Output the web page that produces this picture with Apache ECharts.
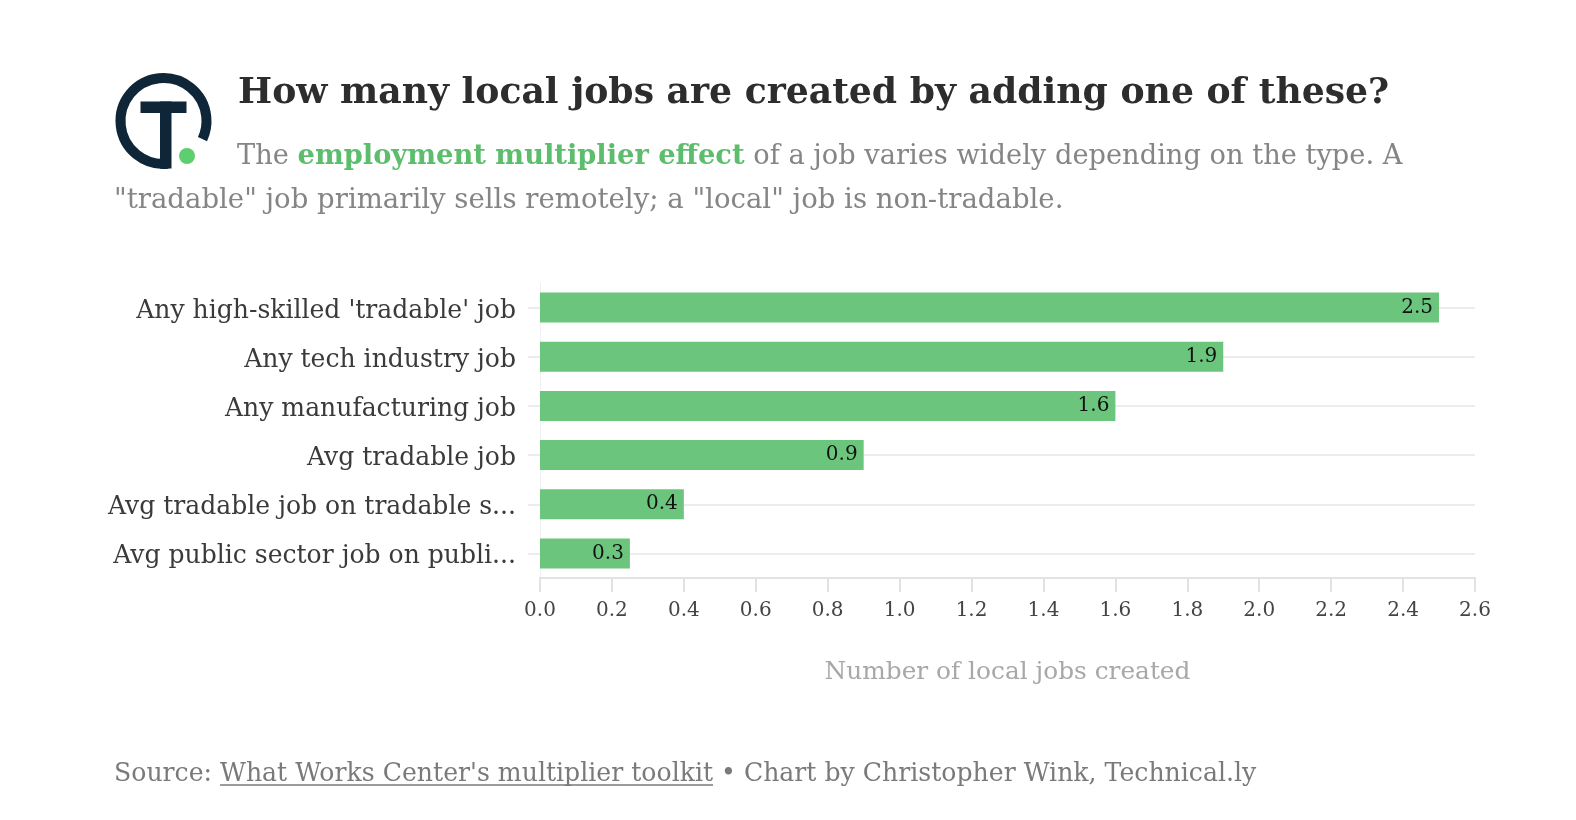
<!DOCTYPE html>
<html>
<head>
<meta charset="utf-8">
<script src="https://cdn.jsdelivr.net/npm/echarts@6/dist/echarts.min.js"></script>
<style>
html, body { margin: 0; background: #fff; }
#chart { width: 1576px; height: 820px; }
</style>
</head>
<body>
<div id="chart"></div>
<script>
// 数据
var categories = [
	"Any high-skilled 'tradable' job",
	'Any tech industry job',
	'Any manufacturing job',
	'Avg tradable job',
	'Avg tradable job on tradable s...',
	'Avg public sector job on publi...'
];
var values = [2.5, 1.9, 1.6, 0.9, 0.4, 0.25];
var axisMin = 0, axisMax = 2.6, axisStep = 0.2;

var titleText = 'How many local jobs are created by adding one of these?';
var subA = 'The ', subB = 'employment multiplier effect', subC = ' of a job varies widely depending on the type. A';
var sub2 = '"tradable" job primarily sells remotely; a "local" job is non-tradable.';
var srcA = 'Source: ', srcB = "What Works Center's multiplier toolkit", srcC = ' \u2022 Chart by Christopher Wink, Technical.ly';
var axisName = 'Number of local jobs created';

// 字体: 没有 Lora, 按宽度缩放
var FONT = '"DejaVu Serif", "Liberation Serif", serif';
var ctx = document.createElement('canvas').getContext('2d');
function textWidth(str, size, weight) {
	ctx.font = (weight || 'normal') + ' ' + size + 'px ' + FONT;
	return ctx.measureText(str).width;
}
function fitSize(parts, target) {
	var w = 0;
	parts.forEach(function(p) { w += textWidth(p[0], 100, p[1]); });
	return 100 * target / w;
}

var titleSize = fitSize([[titleText, 'bold']], 1152);
var subSize = fitSize([[subA], [subB, 'bold'], [subC]], 1166);
var sub2Size = fitSize([[sub2]], 950);
var labelSize = fitSize([[categories[0]]], 380);
var srcSize = fitSize([[srcA], [srcB], [srcC]], 1143);
var nameSize = fitSize([[axisName]], 366);

var navy = '#0f2538', green = '#6cc57c', subGrey = '#858585';

var srcX = 114;
var linkX1 = srcX + textWidth(srcA, srcSize);
var linkX2 = linkX1 + textWidth(srcB, srcSize);

var chart = echarts.init(document.getElementById('chart'));
chart.setOption({
	animation: false,
	backgroundColor: '#fff',
	textStyle: { fontFamily: FONT },
	grid: { left: 540, right: 101, top: 283, bottom: 242, containLabel: false },
	xAxis: {
		type: 'value',
		min: axisMin,
		max: axisMax,
		interval: axisStep,
		axisLine: { show: true, lineStyle: { color: '#e2e2e2', width: 2 } },
		axisTick: { show: true, length: 14, lineStyle: { color: '#e2e2e2', width: 2 } },
		axisLabel: {
			margin: 23, fontSize: 20, color: '#444', fontFamily: FONT,
			formatter: function(v) { return v.toFixed(1); }
		},
		splitLine: { show: false },
		name: axisName,
		nameLocation: 'middle',
		nameGap: 82,
		nameTextStyle: { fontSize: nameSize, color: '#a8a8a8', fontFamily: FONT }
	},
	yAxis: {
		type: 'category',
		inverse: true,
		data: categories,
		axisLine: { show: true, lineStyle: { color: '#f0f0f0', width: 1 } },
		axisTick: { show: true, alignWithLabel: true, length: 12, lineStyle: { color: '#ececec', width: 2 } },
		axisLabel: {
			margin: 24,
			formatter: function(v) { return '{a|' + v + '}'; },
			rich: { a: { fontSize: labelSize, color: '#3a3a3a', fontFamily: FONT, padding: [7, 0, 0, 0] } }
		},
		splitLine: { show: true, alignWithLabel: true, lineStyle: { color: '#ececec', width: 2 } }
	},
	series: [{
		type: 'bar',
		data: values,
		barWidth: 30,
		itemStyle: { color: green },
		label: {
			show: true,
			position: 'insideRight',
			distance: 6,
			fontSize: 20,
			color: '#111',
			fontFamily: FONT,
			formatter: function(p) { return p.value.toFixed(1); }
		}
	}],
	graphic: [
		// logo
		{
			type: 'arc',
			shape: { cx: 163.5, cy: 121, r: 43, startAngle: 84 * Math.PI / 180, endAngle: 385 * Math.PI / 180, clockwise: true },
			style: { stroke: navy, lineWidth: 10, fill: 'none' }
		},
		{ type: 'rect', shape: { x: 140.5, y: 101.5, width: 46, height: 11.5 }, style: { fill: navy } },
		{ type: 'rect', shape: { x: 160, y: 101.5, width: 11.5, height: 67 }, style: { fill: navy } },
		{ type: 'circle', shape: { cx: 187, cy: 156, r: 8 }, style: { fill: '#5fce70' } },
		// 标题
		{
			type: 'text', left: 238, top: 94 - titleSize * 0.5,
			style: { text: titleText, font: 'bold ' + titleSize + 'px ' + FONT, fill: '#2d2d2d' }
		},
		{
			type: 'text', left: 237, top: 157 - subSize * 0.5,
			style: {
				text: '{a|' + subA + '}{b|' + subB + '}{a|' + subC + '}',
				rich: {
					a: { fontSize: subSize, fontFamily: FONT, fill: subGrey },
					b: { fontSize: subSize, fontFamily: FONT, fontWeight: 'bold', fill: '#5cbd6c' }
				}
			}
		},
		{
			type: 'text', left: 114, top: 201 - sub2Size * 0.5,
			style: { text: sub2, font: sub2Size + 'px ' + FONT, fill: subGrey }
		},
		// 来源
		{
			type: 'text', left: srcX, top: 775 - srcSize * 0.5,
			style: { text: srcA + srcB + srcC, font: srcSize + 'px ' + FONT, fill: '#7a7a7a' }
		},
		{
			type: 'line',
			shape: { x1: linkX1, y1: 785, x2: linkX2, y2: 785 },
			style: { stroke: '#7a7a7a', lineWidth: 1.5 }
		}
	]
});
</script>
</body>
</html>
